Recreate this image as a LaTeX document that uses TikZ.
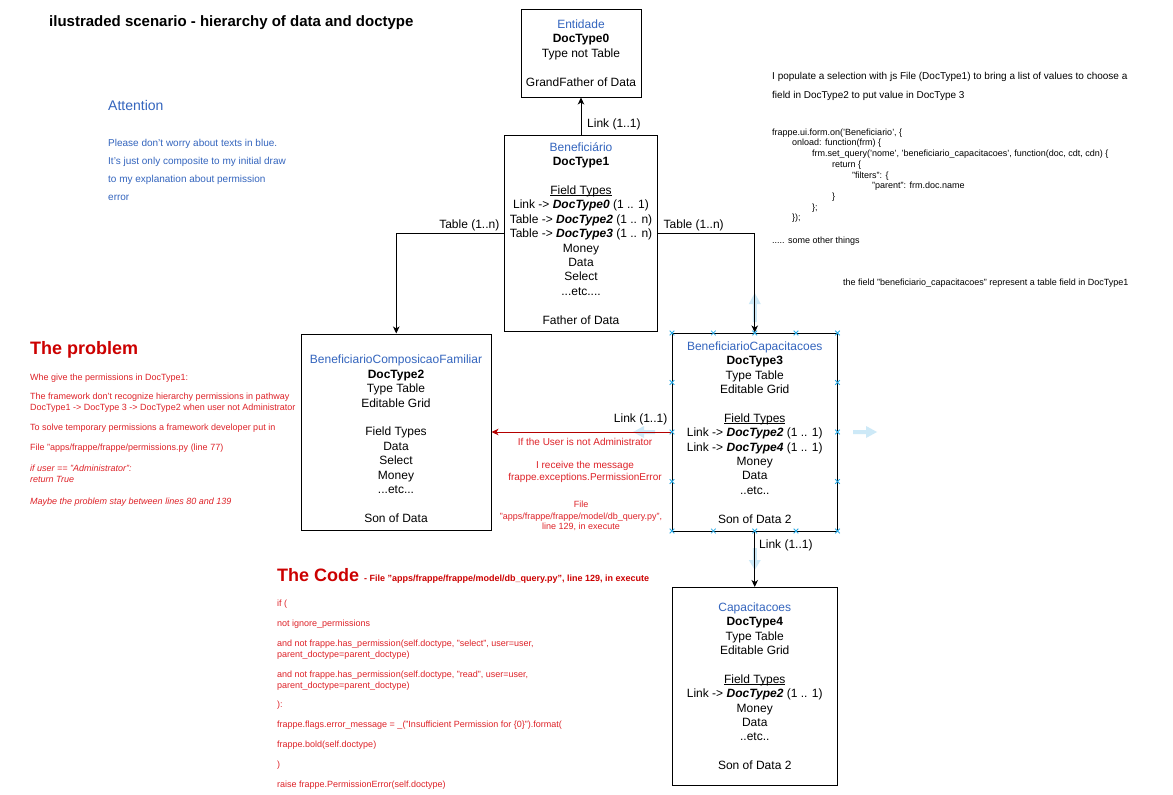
\documentclass[tikz,border=0pt]{standalone}
\usepackage{fontspec}
\setmainfont{Liberation Sans}
\usetikzlibrary{arrows.meta}
\definecolor{nameblue}{RGB}{52,101,190}
\definecolor{probred}{RGB}{204,0,0}
\definecolor{txtred}{RGB}{222,34,40}
\definecolor{linkred}{RGB}{180,0,0}
\definecolor{selblue}{RGB}{41,170,230}
\definecolor{faintblue}{RGB}{205,233,247}
\newcommand\fsz[2]{\fontsize{#1}{#2}\selectfont}
\newcommand\rl[1]{\rule{0pt}{#1}}
\newcommand\fldul[1]{\setbox0\hbox{#1}\rlap{\rule[-1.4pt]{\wd0}{0.8pt}}\box0}
\begin{document}
\begin{tikzpicture}[x=1pt,y=-1pt,
 box/.style={draw=black,line width=1pt,inner sep=0pt,fill=white},
 boxtext/.style={anchor=north,inner sep=0pt,align=center,font=\fsz{12}{14.4}},
 lbl/.style={inner sep=0pt,font=\fsz{12}{14.4}},
 txtplain/.style={anchor=base west,inner sep=0pt},
 txtsmall/.style={txtplain,font=\fsz{9}{10.8}},
 txtredsmall/.style={txtsmall,text=txtred},
 conn/.style={draw=black,line width=1pt,-{Stealth[length=7pt,width=6.5pt,inset=2pt]}},
 redconn/.style={draw=linkred,line width=1pt,-{Stealth[length=7pt,width=6.5pt,inset=2pt]}},
 selmark/.style={draw=selblue,line width=0.8pt},
 faint/.style={fill=faintblue,draw=none}
]
\fill[white] (0,0) rectangle (1173,795);
\useasboundingbox (0,0) rectangle (1173,795);

% boxes
\node[box,minimum width=120pt,minimum height=88pt] (ent) at (581,53) {};
\node[box,minimum width=153pt,minimum height=195.5pt] (ben) at (581,233.25) {};
\node[box,minimum width=189.5pt,minimum height=196pt] (dt2) at (396.25,432) {};
\node[box,minimum width=165.5pt,minimum height=198pt] (dt3) at (754.75,432) {};
\node[box,minimum width=165.5pt,minimum height=198pt] (dt4) at (754.75,686.5) {};

% faint hover arrows
\fill[faint] (752.75,322) -- (752.75,304) -- (748.75,304) -- (754.75,293) -- (760.75,304) -- (756.75,304) -- (756.75,322) -- cycle;
\fill[faint] (853,430) -- (866,430) -- (866,426) -- (877,432) -- (866,438) -- (866,434) -- (853,434) -- cycle;
\fill[faint] (655,430) -- (644,430) -- (644,426) -- (633,432) -- (644,438) -- (644,434) -- (655,434) -- cycle;
\fill[faint] (752.75,548) -- (752.75,560) -- (748.75,560) -- (754.75,570) -- (760.75,560) -- (756.75,560) -- (756.75,548) -- cycle;

% connectors
\draw[conn] (ben.north) -- (ent.south);
\draw[conn] (ben.west) -- (ben.west -| dt2.north) -- (dt2.north);
\draw[conn] (ben.east) -- (ben.east -| dt3.north) -- (dt3.north);
\draw[redconn] (dt3.west) -- (dt2.east);
\draw[conn] (dt3.south) -- (dt4.north);

% selection markers
\foreach \x in {672,713.4,754.75,796,837.5} {
  \foreach \y in {333,531} {
    \draw[selmark] (\x-2.3,\y-2.3) -- (\x+2.3,\y+2.3) (\x-2.3,\y+2.3) -- (\x+2.3,\y-2.3);
  }
}
\foreach \x in {672,837.5} {
  \foreach \y in {382.5,432,481.5} {
    \draw[selmark] (\x-2.3,\y-2.3) -- (\x+2.3,\y+2.3) (\x-2.3,\y+2.3) -- (\x+2.3,\y-2.3);
  }
}

% box texts
\node[boxtext] (entt) at (581,17.3) {\rl{11pt}\textcolor{nameblue}{Entidade}\\\textbf{DocType0}\\Type not Table\\[14.4pt]GrandFather of Data};
\node[boxtext] (bent) at (581,140) {\rl{11pt}\textcolor{nameblue}{Beneficiário}\\\textbf{DocType1}\\[14.4pt]\fldul{Field Types}\\Link -> \textbf{\textit{DocType0}} (1 .. 1)\\Table -> \textbf{\textit{DocType2}} (1 .. n)\\Table -> \textbf{\textit{DocType3}} (1 .. n)\\Money\\Data\\Select\\...etc....\\[14.4pt]Father of Data};
\node[boxtext] (dt2t) at (396,352.6) {\rl{11pt}\textcolor{nameblue}{BeneficiarioComposicaoFamiliar}\\\textbf{DocType2}\\Type Table\\Editable Grid\\[14.4pt]Field Types\\Data\\Select\\Money\\...etc...\\[14.4pt]Son of Data};
\node[boxtext] (dt3t) at (754.75,339) {\rl{11pt}\textcolor{nameblue}{BeneficiarioCapacitacoes}\\\textbf{DocType3}\\Type Table\\Editable Grid\\[14.4pt]\fldul{Field Types}\\Link -> \textbf{\textit{DocType2}} (1 .. 1)\\Link -> \textbf{\textit{DocType4}} (1 .. 1)\\Money\\Data\\..etc..\\[14.4pt]Son of Data 2};
\node[boxtext] (dt4t) at (754.75,600) {\rl{11pt}\textcolor{nameblue}{Capacitacoes}\\\textbf{DocType4}\\Type Table\\Editable Grid\\[14.4pt]\fldul{Field Types}\\Link -> \textbf{\textit{DocType2}} (1 .. 1)\\Money\\Data\\..etc..\\[14.4pt]Son of Data 2};

% connector labels
\node[lbl,anchor=base west] (l1) at (587,127.3) {Link (1..1)};
\node[lbl,anchor=base east] (l2) at (499.5,228.3) {Table (1..n)};
\node[lbl,anchor=base west] (l3) at (663.5,228.3) {Table (1..n)};
\node[lbl,anchor=base east] (l4) at (667.5,422) {Link (1..1)};
\node[lbl,anchor=base west] (l5) at (759,548.3) {Link (1..1)};

% red texts under red connector
\node[anchor=base,inner sep=0pt,font=\fsz{10}{12},text=txtred] (m1) at (585,445.3) {If the User is not Administrator};
\node[anchor=base,inner sep=0pt,font=\fsz{10}{12},text=txtred] (m2) at (585,468.6) {I receive the message};
\node[anchor=base,inner sep=0pt,font=\fsz{10}{12},text=txtred] (m3) at (585,480.9) {frappe.exceptions.PermissionError};
\node[anchor=base,inner sep=0pt,font=\fsz{9}{11},text=txtred] (m4) at (581,507.2) {File};
\node[anchor=base,inner sep=0pt,font=\fsz{9}{11},text=txtred] (m5) at (581,519) {"apps/frappe/frappe/model/db\_query.py",};
\node[anchor=base,inner sep=0pt,font=\fsz{9}{11},text=txtred] (m6) at (581,529.3) {line 129, in execute};

% title
\node[txtplain,font=\fsz{15}{18}\bfseries] (title) at (49,26.4) {ilustraded scenario - hierarchy of data and doctype};

% attention
\node[txtplain,font=\fsz{14}{16},text=nameblue] (att) at (108,110) {Attention};
\node[anchor=north west,inner sep=0pt,align=left,font=\fsz{10}{18},text=nameblue] (attp) at (108,136.3) {\rl{10pt}Please don't worry about texts in blue.\\It's just only composite to my initial draw\\to my explanation about permission\\error};

% right texts
\node[anchor=north west,inner sep=0pt,align=left,font=\fsz{10}{18.3}] (pop) at (772,69.6) {\rl{10pt}I populate a selection with js File (DocType1) to bring a list of values to choose a\\field in DocType2 to put value in DocType 3};
\node[anchor=north west,inner sep=0pt,align=left,font=\fsz{9}{10.7}] (jscode) at (772,126) {\rl{9pt}frappe.ui.form.on('Beneficiario', \{\\
\hspace*{20pt}onload: function(frm) \{\\
\hspace*{40pt}frm.set\_query('nome', 'beneficiario\_capacitacoes', function(doc, cdt, cdn) \{\\
\hspace*{60pt}return \{\\
\hspace*{80pt}"filters": \{\\
\hspace*{100pt}"parent": frm.doc.name\\
\hspace*{60pt}\}\\
\hspace*{40pt}\};\\
\hspace*{20pt}\});};
\node[txtsmall] (other) at (772,243.3) {..... some other things};
\node[txtsmall] (field) at (843,285.2) {the field "beneficiario\_capacitacoes" represent a table field in DocType1};

% the problem
\node[txtplain,font=\fsz{18}{20}\bfseries,text=probred] (probt) at (30,354.8) {The problem};
\node[txtredsmall] (p1) at (30,380) {Whe give the permissions in DocType1:};
\node[txtredsmall] (p2) at (30,399.3) {The framework don't recognize hierarchy permissions in pathway};
\node[txtredsmall] (p3) at (30,410.3) {DocType1 -> DocType 3 -> DocType2 when user not Administrator};
\node[txtredsmall] (p4) at (30,430.6) {To solve temporary permissions a framework developer put in};
\node[txtredsmall] (p5) at (30,450.6) {File "apps/frappe/frappe/permissions.py (line 77)};
\node[txtredsmall,font=\fsz{9}{10.8}\itshape] (p6) at (30,471) {if user == "Administrator":};
\node[txtredsmall,font=\fsz{9}{10.8}\itshape] (p7) at (30,482) {return True};
\node[txtredsmall,font=\fsz{9}{10.8}\itshape] (p8) at (30,504.3) {Maybe the problem stay between lines 80 and 139};

% the code
\node[txtplain,font=\fsz{18}{20}\bfseries,text=probred] (codet) at (277,581.5) {The Code {\fsz{9}{11}- File "apps/frappe/frappe/model/db\_query.py", line 129, in execute}};
\node[txtredsmall] (c1) at (277,606.6) {if (};
\node[txtredsmall] (c2) at (277,626) {not ignore\_permissions};
\node[txtredsmall] (c3) at (277,646) {and not frappe.has\_permission(self.doctype, "select", user=user,};
\node[txtredsmall] (c4) at (277,657.3) {parent\_doctype=parent\_doctype)};
\node[txtredsmall] (c5) at (277,677.3) {and not frappe.has\_permission(self.doctype, "read", user=user,};
\node[txtredsmall] (c6) at (277,688.3) {parent\_doctype=parent\_doctype)};
\node[txtredsmall] (c7) at (277,707.6) {):};
\node[txtredsmall] (c8) at (277,727.3) {frappe.flags.error\_message = \_("Insufficient Permission for \{0\}").format(};
\node[txtredsmall] (c9) at (277,747.3) {frappe.bold(self.doctype)};
\node[txtredsmall] (c10) at (277,767.3) {)};
\node[txtredsmall] (c11) at (277,787.3) {raise frappe.PermissionError(self.doctype)};
\end{tikzpicture}
\end{document}
